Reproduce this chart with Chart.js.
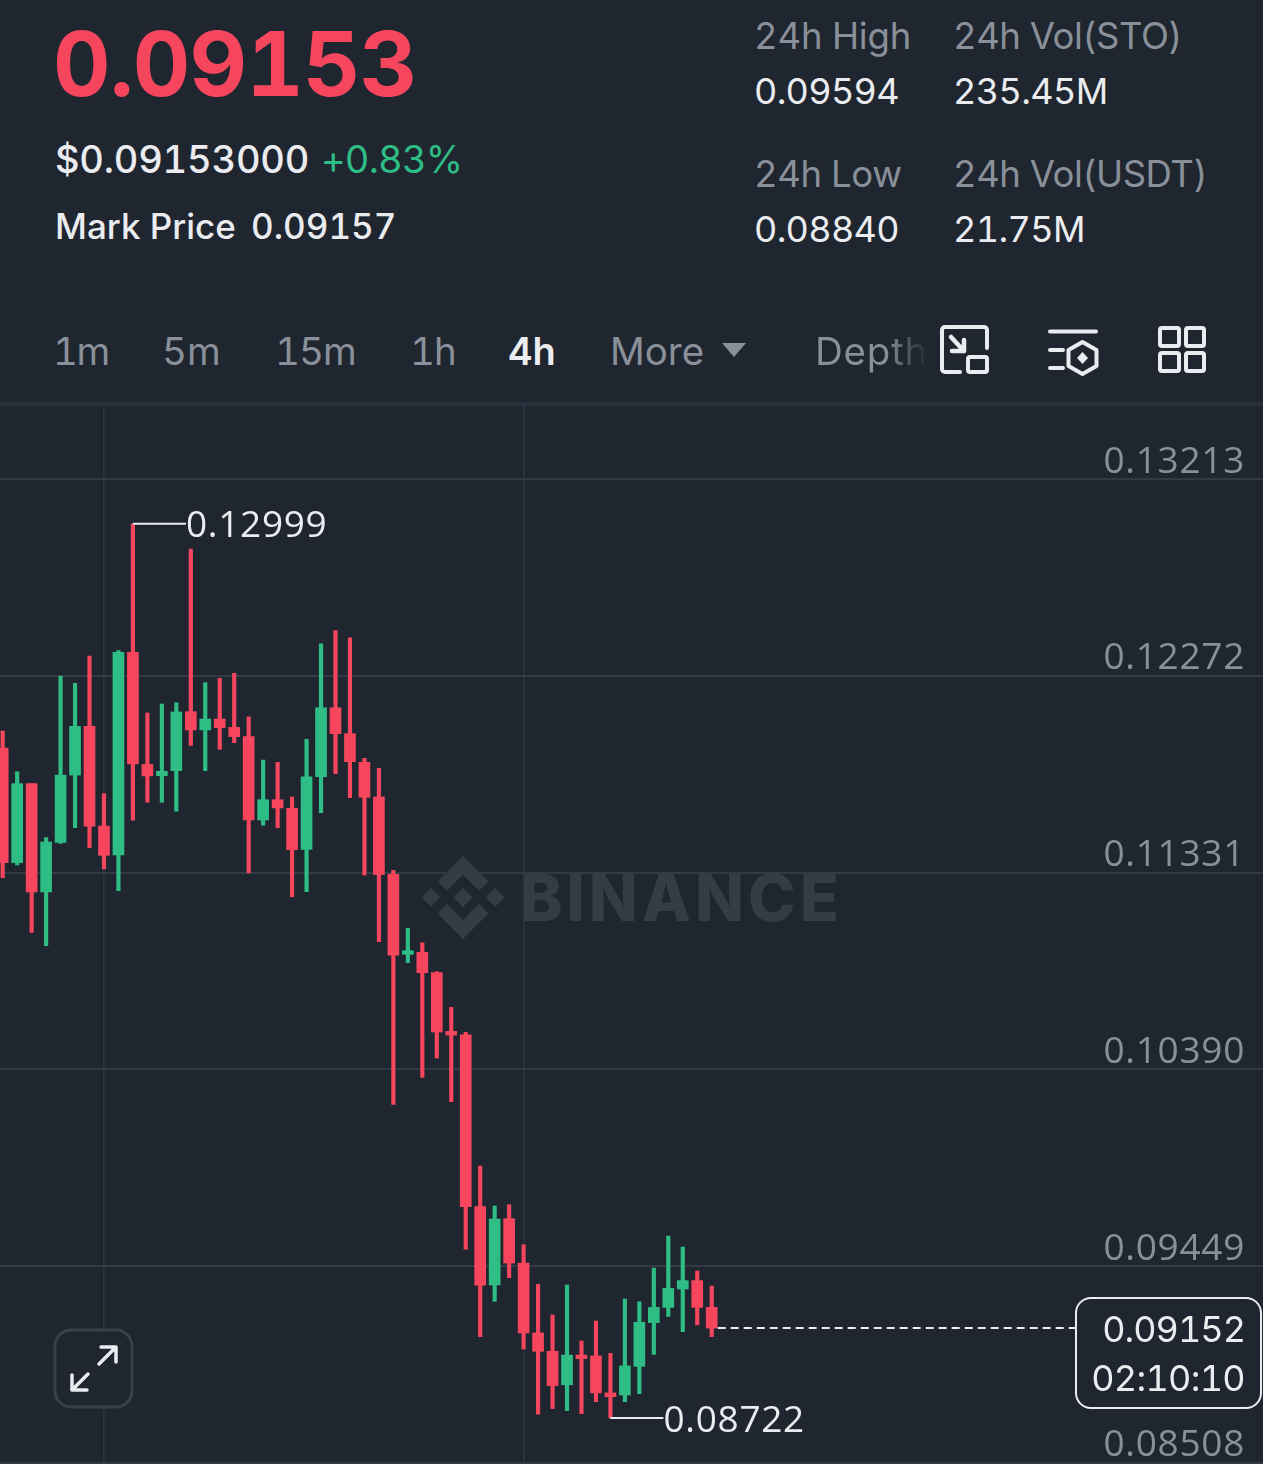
<!DOCTYPE html>
<html>
<head>
<meta charset="utf-8">
<script src="https://cdn.jsdelivr.net/npm/chart.js@4/dist/chart.umd.min.js"></script>
<style>
html,body{margin:0;padding:0;background:#1f2630;width:1263px;height:1464px;overflow:hidden;font-family:Inter,sans-serif;font-variant-numeric:tabular-nums}
.t{position:absolute;white-space:nowrap;height:60px;line-height:60px;color:#eaecef}
.g{color:#8a909a}
#sep{position:absolute;left:0;top:402px;width:1263px;height:4px;background:#2a303b}
#wm{position:absolute;left:0;top:0}
#wmt{position:absolute;left:520px;top:858px;height:80px;line-height:80px;font-size:64px;font-weight:800;color:#363c46;letter-spacing:4px;white-space:nowrap}
canvas{position:absolute;left:0;top:405px}
svg.i{position:absolute;left:0;top:0;pointer-events:none}
#box{position:absolute;left:1075px;top:1297px;width:183px;height:108px;border:2px solid #eaecef;border-radius:16px;background:#1f2630}
</style>
</head>
<body>
<div id="wmt">BINANCE</div>
<svg id="wm" class="i" width="1263" height="1464"><g transform="translate(421.5,856) scale(0.655)" fill="#363c46"><path d="M38.73 53.2l24.59-24.58 24.6 24.6 14.3-14.31L63.32 0l-38.9 38.9zM0 63.31l14.3-14.31 14.31 14.31-14.31 14.3zM38.73 73.41l24.59 24.59 24.6-24.6 14.31 14.29-38.9 38.91-38.91-38.88-.02-.02zM98 63.31l14.3-14.31 14.31 14.3-14.31 14.32zM77.83 63.3L63.32 48.78 52.59 59.51l-1.24 1.23-2.54 2.54 14.51 14.5 14.51-14.47z"/></g></svg>

<div class="t" style="left:53px;top:34px;font-size:89px;font-weight:700;letter-spacing:-.8px;color:#f6465d">0.09153</div>
<div class="t" style="left:55px;top:129px;font-size:38px;font-weight:500;letter-spacing:-.2px">$0.09153000</div>
<div class="t" style="left:321px;top:129px;font-size:38px;font-weight:400;color:#2ebd85;letter-spacing:-.8px">+0.83%</div>
<div class="t" style="left:55px;top:196px;font-size:35px;font-weight:500">Mark Price</div>
<div class="t" style="left:251px;top:196px;font-size:35px;font-weight:500">0.09157</div>

<div class="t g" style="left:754px;top:6px;font-size:36.500px;letter-spacing:-.2px">24h High</div>
<div class="t" style="left:754px;top:61px;font-size:36px;letter-spacing:-.7px">0.09594</div>
<div class="t g" style="left:953px;top:6px;font-size:36.500px;letter-spacing:-.5px">24h Vol(STO)</div>
<div class="t" style="left:953px;top:61px;font-size:36px;letter-spacing:-.6px">235.45M</div>
<div class="t g" style="left:754px;top:144px;font-size:36.500px;letter-spacing:-.4px">24h Low</div>
<div class="t" style="left:754px;top:199px;font-size:36px;letter-spacing:-.7px">0.08840</div>
<div class="t g" style="left:953px;top:144px;font-size:36.500px;letter-spacing:-.5px">24h Vol(USDT)</div>
<div class="t" style="left:953px;top:199px;font-size:36px;letter-spacing:-.6px">21.75M</div>

<div class="t g" style="left:53px;top:321px;font-size:38.500px;letter-spacing:-1.500px">1m</div>
<div class="t g" style="left:162px;top:321px;font-size:38.500px">5m</div>
<div class="t g" style="left:275px;top:321px;font-size:38.500px;letter-spacing:-1px">15m</div>
<div class="t g" style="left:410px;top:321px;font-size:38.500px;letter-spacing:-1px">1h</div>
<div class="t" style="left:508px;top:321px;font-size:38px;font-weight:600">4h</div>
<div class="t g" style="left:610px;top:321px;font-size:38.500px">More</div>
<div class="t" style="left:815px;top:321px;font-size:38.500px;letter-spacing:.8px;color:transparent;background:linear-gradient(90deg,#8a909a 0,#8a909a 62%,#1f2630 100%);-webkit-background-clip:text;background-clip:text">Depth</div>
<div id="sep"></div>

<canvas id="c" width="1263" height="1059"></canvas>

<svg class="i" width="1263" height="1464" fill="none" stroke="#eaecef" stroke-width="4" stroke-linecap="round" stroke-linejoin="round">
  <path d="M722 343h24l-12 14z" fill="#8a909a" stroke="none"/>
  <path d="M960 372H945a3 3 0 0 1-3-3V330a3 3 0 0 1 3-3h39a3 3 0 0 1 3 3v18"/>
  <rect x="968" y="357" width="19" height="15" rx="2"/>
  <path d="M951 337l13 14M964 340v11h-12" stroke-width="4.5"/>
  <path d="M1050 331.500h46M1050 350h13M1050 368h13"/>
  <path d="M1082.500 342l14 8v16l-14 8-14-8v-16z"/>
  <path d="M1082.500 352l5.500 6-5.500 6-5.500-6z" fill="#eaecef" stroke="none"/>
  <rect x="1160" y="328" width="19" height="18" rx="2"/>
  <rect x="1186" y="328" width="18" height="18" rx="2"/>
  <rect x="1160" y="353" width="19" height="18" rx="2"/>
  <rect x="1186" y="353" width="18" height="18" rx="2"/>
  <rect x="55" y="1330" width="77" height="77" rx="16" stroke="#3a404b" stroke-width="3" fill="#1f2630"/>
  <path d="M72 1390l16-16M72 1375v15h15M116 1347l-17 17M101 1347h15v15" stroke-width="3.500"/>
</svg>

<div id="box"></div>
<div class="t" style="right:18px;top:1299px;font-size:36px;letter-spacing:-1px">0.09152</div>
<div class="t" style="right:18px;top:1348px;font-size:36px;letter-spacing:-.7px">02:10:10</div>

<script>
// Candle sequence numbers (4h bars), left to right
const candles = [0,1,2,3,4,5,6,7,8,9,10,11,12,13,14,15,16,17,18,19,20,21,22,23,24,25,26,27,28,29,30,31,32,33,34,35,36,37,38,39,40,41,42,43,44,45,46,47,48,49];
const opens  = [.11926,.11378,.11756,.11238,.11475,.11797,.12030,.11553,.11415,.12384,.11848,.11794,.11818,.12100,.12013,.12065,.12025,.11981,.11582,.11679,.11638,.11442,.11789,.12119,.11995,.11858,.11692,.11322,.10940,.10949,.10852,.10571,.10555,.09733,.09358,.09675,.09463,.09129,.09041,.08881,.09023,.09019,.08842,.08832,.08969,.09178,.09251,.09339,.09379,.09251];
const closes = [.11378,.11756,.11238,.11477,.11797,.12030,.11553,.11413,.12384,.11850,.11793,.11815,.12099,.12013,.12065,.12024,.11981,.11582,.11679,.11640,.11440,.11789,.12119,.11995,.11861,.11691,.11321,.10936,.10957,.10852,.10568,.10554,.09733,.09357,.09674,.09463,.09129,.09041,.08877,.09023,.09006,.08842,.08824,.08971,.09180,.09251,.09342,.09379,.09251,.09152];
const highs  = [.12008,.11813,.11756,.11498,.12271,.12236,.12366,.11708,.12392,.12999,.12094,.12137,.12143,.12878,.12239,.12260,.12284,.12076,.11869,.11858,.11692,.11968,.12425,.12488,.12453,.11877,.11829,.11341,.11064,.10995,.10857,.10686,.10567,.09927,.09736,.09742,.09551,.09361,.09215,.09358,.09090,.09186,.09031,.09291,.09278,.09439,.09592,.09540,.09425,.09353];
const lows   = [.11306,.11367,.11045,.10981,.11470,.11545,.11450,.11348,.11244,.11581,.11667,.11667,.11624,.11939,.11818,.11920,.11952,.11329,.11557,.11545,.11215,.11239,.11617,.11804,.11689,.11319,.11000,.10222,.10900,.10351,.10444,.10235,.09530,.09111,.09280,.09393,.09052,.08740,.08767,.08757,.08743,.08800,.08722,.08800,.08838,.09026,.09208,.09135,.09168,.09111];
const priceTicks = [0.13213,0.12272,0.11331,0.10390,0.09449,0.08508];
const timeGridCandles = [7,36];
const highMark = {candle:9, price:0.12999};
const lowMark = {candle:42, price:0.08722};
const lastPrice = 0.09152;

const UP='#2ebd85', DOWN='#f6465d', GRID='#343a45', TXT='#eaecef';
const colors = opens.map((o,i)=> closes[i]>=o ? UP : DOWN);
const CFONT = '"Open Sans", sans-serif';

const marks = {
  id:'marks',
  beforeDraw(chart){ chart.ctx.letterSpacing='0.7px'; },
  afterDatasetsDraw(chart){
    const {ctx,scales:{x,y}} = chart;
    ctx.save();
    ctx.strokeStyle=TXT; ctx.fillStyle=TXT; ctx.font='500 37px '+CFONT; ctx.textBaseline='middle'; ctx.textAlign='left';
    ctx.lineWidth=2;
    for(const m of [highMark,lowMark]){
      const px=x.getPixelForValue(m.candle), py=y.getPixelForValue(m.price);
      ctx.beginPath(); ctx.moveTo(px,py); ctx.lineTo(px+53,py); ctx.stroke();
      ctx.fillText(m.price.toFixed(5),px+53,py+3);
    }
    const lx=x.getPixelForValue(candles[candles.length-1])+6, ly=y.getPixelForValue(lastPrice);
    ctx.setLineDash([8,5]);
    ctx.beginPath(); ctx.moveTo(lx,ly); ctx.lineTo(1075,ly); ctx.stroke();
    ctx.restore();
  }
};

new Chart(document.getElementById('c'),{
  type:'bar',
  data:{datasets:[
    {label:'Range',data:candles.map((c,i)=>({x:c,y:[lows[i],highs[i]]})),backgroundColor:colors,barThickness:3.5,grouped:false,order:2,borderWidth:0},
    {label:'Open/Close',data:candles.map((c,i)=>({x:c,y:[opens[i],closes[i]]})),backgroundColor:colors,barThickness:11,grouped:false,order:1,borderWidth:0}
  ]},
  options:{
    responsive:false,animation:false,devicePixelRatio:1,
    layout:{padding:0},
    plugins:{legend:{display:false},tooltip:{enabled:false}},
    scales:{
      x:{type:'linear',min:-0.1866,max:87.10,offset:false,
        afterBuildTicks(s){s.ticks=timeGridCandles.map(v=>({value:v}));},
        ticks:{display:false},border:{display:false},
        grid:{offset:false,color:'#2f3540',lineWidth:1.5,drawTicks:false}},
      y:{type:'linear',position:'right',min:0.08502,max:0.13567,
        afterBuildTicks(s){s.ticks=priceTicks.map(v=>({value:v}));},
        afterFit(s){s.width=0;s.paddingTop=0;s.paddingBottom=0;s.paddingLeft=0;s.paddingRight=0;},
        ticks:{mirror:true,padding:-18,labelOffset:-17,autoSkip:false,color:'#8a909a',font:{family:CFONT,size:37,weight:'500'},callback:v=>v.toFixed(5)},
        border:{display:false},
        grid:{color:GRID,lineWidth:2,drawTicks:false}}
    }
  },
  plugins:[marks]
});
</script>
</body>
</html>
